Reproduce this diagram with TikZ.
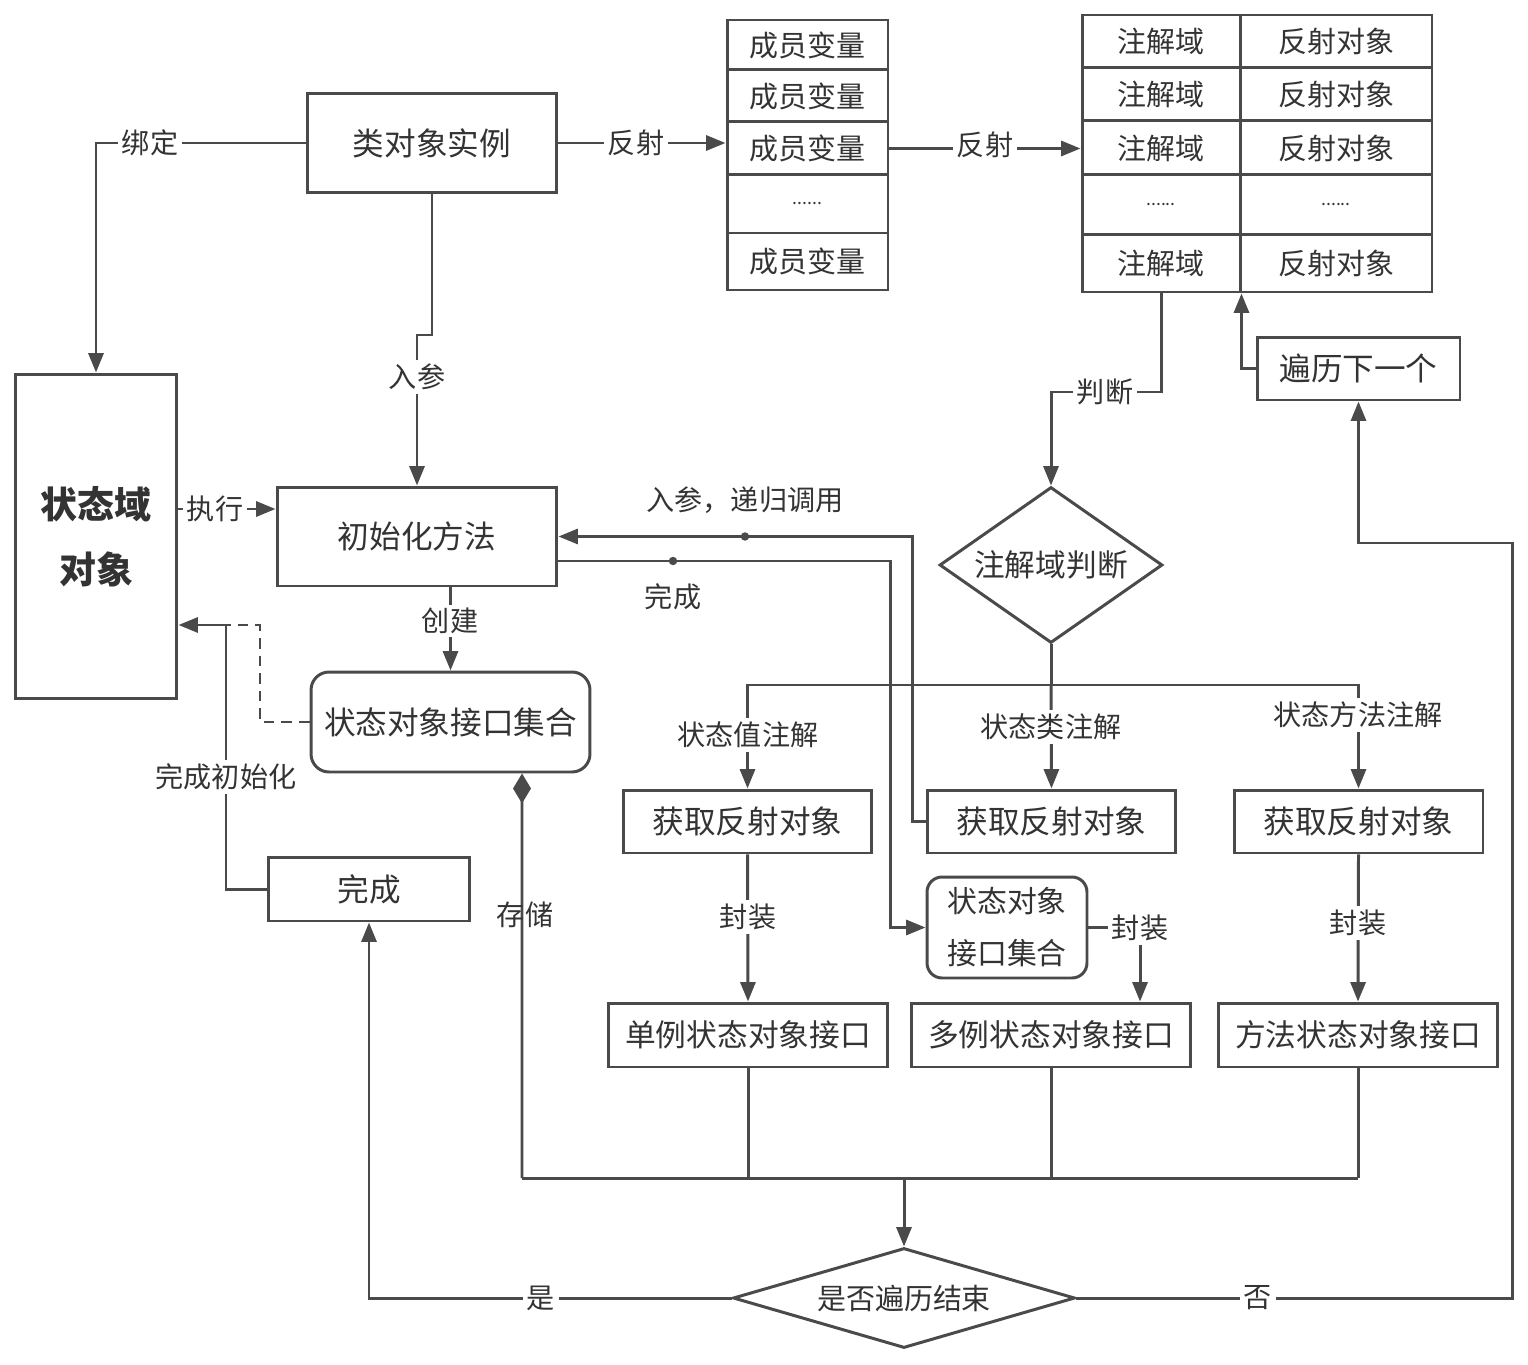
\documentclass[tikz,border=0pt]{standalone}
\usepackage{fontspec}
\setmainfont{Noto Sans CJK SC}
\usetikzlibrary{arrows.meta,shapes.geometric,calc}
\definecolor{ln}{HTML}{4A4A4A}
\definecolor{tx}{HTML}{333333}
\begin{document}
\begin{tikzpicture}[x=0.02cm,y=-0.02cm,
  every node/.style={text=tx},
  box/.style={draw=ln, line width=1.7pt, fill=white, inner sep=0pt, font=\fontsize{18}{20}\selectfont},
  cell/.style={draw=ln, line width=1.7pt, inner sep=0pt, font=\fontsize{16.5}{18}\selectfont},
  dots/.style={font=\fontsize{10}{11}\selectfont},
  rbox/.style={box, rounded corners=0.36cm},
  dia/.style={draw=ln, line width=1.7pt, diamond, inner sep=0pt, fill=white},
  lbl/.style={font=\fontsize{16}{18}\selectfont, fill=white, inner sep=2pt},
  lblnf/.style={font=\fontsize{16}{18}\selectfont, inner sep=1pt},
  conn/.style={draw=ln, line width=1.7pt},
  arr/.style={conn, -{Triangle[length=11pt,width=8.5pt]}},
]
\useasboundingbox (0,0) rectangle (1528,1365);

% main boxes
\node[box, minimum width=5cm, minimum height=2cm] (cls) at (432,143) {类对象实例};
\node[box, minimum width=3.24cm, minimum height=6.5cm, align=center, font=\bfseries\fontsize{21}{37}\selectfont] (dom) at (96,536.5) {状态域\\对象};
\node[box, minimum width=5.6cm, minimum height=1.98cm] (init) at (417,536.5) {初始化方法};
\node[rbox, minimum width=5.58cm, minimum height=2cm] (scbig) at (450.5,722) {状态对象接口集合};
\node[box, minimum width=4.04cm, minimum height=1.28cm] (done) at (369,889) {完成};

% member variable table
\node[cell, minimum width=3.22cm, minimum height=1.0cm] (m1) at (807.5,45) {成员变量};
\node[cell, minimum width=3.22cm, minimum height=1.04cm] (m2) at (807.5,96) {成员变量};
\node[cell, minimum width=3.22cm, minimum height=1.06cm] (m3) at (807.5,148.5) {成员变量};
\node[cell, minimum width=3.22cm, minimum height=1.16cm, dots] (m4) at (807.5,204) {......};
\node[cell, minimum width=3.22cm, minimum height=1.14cm] (m5) at (807.5,261.5) {成员变量};

% annotation table
\node[cell, minimum width=3.16cm, minimum height=1.06cm] (a1) at (1161,41.5) {注解域};
\node[cell, minimum width=3.16cm, minimum height=1.06cm] (a2) at (1161,94.5) {注解域};
\node[cell, minimum width=3.16cm, minimum height=1.08cm] (a3) at (1161,148) {注解域};
\node[cell, minimum width=3.16cm, minimum height=1.2cm, dots] (a4) at (1161,205) {......};
\node[cell, minimum width=3.16cm, minimum height=1.14cm] (a5) at (1161,263.5) {注解域};
\node[cell, minimum width=3.84cm, minimum height=1.06cm] (r1) at (1336,41.5) {反射对象};
\node[cell, minimum width=3.84cm, minimum height=1.06cm] (r2) at (1336,94.5) {反射对象};
\node[cell, minimum width=3.84cm, minimum height=1.08cm] (r3) at (1336,148) {反射对象};
\node[cell, minimum width=3.84cm, minimum height=1.2cm, dots] (r4) at (1336,205) {......};
\node[cell, minimum width=3.84cm, minimum height=1.14cm] (r5) at (1336,263.5) {反射对象};

\node[box, minimum width=4.06cm, minimum height=1.26cm] (next) at (1358.5,368.5) {遍历下一个};

\node[dia, minimum width=4.46cm, minimum height=3.12cm, shape aspect=1.43, font=\fontsize{17.5}{19}\selectfont] (jd) at (1051,565) {注解域判断};

\node[box, minimum width=4.98cm, minimum height=1.26cm] (g1) at (747.5,821.5) {获取反射对象};
\node[box, minimum width=4.98cm, minimum height=1.26cm] (g2) at (1051.5,821.5) {获取反射对象};
\node[box, minimum width=4.98cm, minimum height=1.26cm] (g3) at (1358.5,821.5) {获取反射对象};

\node[rbox, rounded corners=0.3cm, minimum width=3.2cm, minimum height=2.02cm, align=center, font=\fontsize{17}{29.6}\selectfont] (sc2) at (1007,927.5) {状态对象\\接口集合};

\node[box, minimum width=5.6cm, minimum height=1.28cm, font=\fontsize{17.5}{19}\selectfont] (s1) at (748,1035) {单例状态对象接口};
\node[box, minimum width=5.6cm, minimum height=1.28cm, font=\fontsize{17.5}{19}\selectfont] (s2) at (1051,1035) {多例状态对象接口};
\node[box, minimum width=5.6cm, minimum height=1.28cm, font=\fontsize{17.5}{19}\selectfont] (s3) at (1358,1035) {方法状态对象接口};

\node[dia, minimum width=6.84cm, minimum height=2cm, shape aspect=3.4, font=\fontsize{16.5}{18}\selectfont] (end) at (904,1298) {是否遍历结束};

% connectors
\draw[arr] (cls.west) -| (dom.north);
\draw[arr] (cls.east) -- (cls.east -| m3.west);
\draw[arr] (m3.east) -- (m3.east -| a3.west);
\draw[arr] (cls.south) -- (432,335) -- (417,335) -- (init.north);
\draw[arr] (dom.east |- 0,509) -- (init.west |- 0,509);
\draw[arr] (scbig.north |- init.south) -- (scbig.north);
\draw[conn, dashed, dash pattern=on 6pt off 4pt] (scbig.west) -- (260,722) -- (260,625) -- (dom.east |- 0,625);
\draw[arr] (done.west) -- (226,889) -- (226,625) -- (dom.east |- 0,625);
\draw[arr] (g2.west) -- (912,821.5) -- (912,536.5) -- (init.east);
\draw[arr] (init.east |- 0,561) -- (890,561) -- (890,927.5) -- (sc2.west);
\fill[ln] (745,536.5) circle (2.4pt);
\fill[ln] (673,561) circle (2.4pt);
\draw[arr] (a5.south) -- (1161,392) -| (jd.north);
\draw[arr] (next.west) -| (a5.south east);
\coordinate (bus) at (1051,685);
\draw[arr] (jd.south) -- (bus) -| (g1.north);
\draw[arr] (bus) -- (g2.north);
\draw[arr] (bus) -| (g3.north);
\draw[arr] (g1.south) -- (s1.north);
\draw[arr] (g3.south) -- (s3.north);
\draw[arr] (sc2.east) -| ($(s2.north)+(89,0)$);
\coordinate (bb) at (904,1178);
\draw[conn] (s1.south) -- (s1.south |- bb);
\draw[conn] (s2.south) -- (s2.south |- bb);
\draw[conn] (s3.south) -- (s3.south |- bb);
\draw[conn] (s3.south |- bb) -- (522,1178);
\draw[conn, -{Diamond[length=0.6cm,width=0.36cm]}] (522,1178) -- ($(scbig.south)+(71.5,0)$);
\draw[arr] (bb) -- (end.north);
\draw[arr] (end.west) -| (done.south);
\draw[arr] (end.east) -- (1512,1298) -- (1512,543) -| (next.south);

% labels
\node[lbl] (l1) at (150,143) {绑定};
\node[lbl] (l2) at (636,143) {反射};
\node[lbl] (l3) at (985,145) {反射};
\node[lbl] (l4) at (417,377) {入参};
\node[lbl] (l5) at (215,509) {执行};
\node[lbl] (l6) at (450,621) {创建};
\node[lbl] (l7) at (226,777) {完成初始化};
\node[lblnf] (l8) at (745,500) {入参，递归调用};
\node[lblnf] (l9) at (673,597) {完成};
\node[lbl] (l10) at (1105,392) {判断};
\node[lbl] (l11) at (748,735) {状态值注解};
\node[lbl] (l12) at (1051,727) {状态类注解};
\node[lbl] (l13) at (1358,715) {状态方法注解};
\node[lbl] (l14) at (748,917) {封装};
\node[lbl] (l15) at (1358,923) {封装};
\node[lbl] (l16) at (1140,928) {封装};
\node[lblnf] (l17) at (525,915) {存储};
\node[lbl] (l18) at (541,1298) {是};
\node[lbl] (l19) at (1258,1298) {否};
\end{tikzpicture}
\end{document}
